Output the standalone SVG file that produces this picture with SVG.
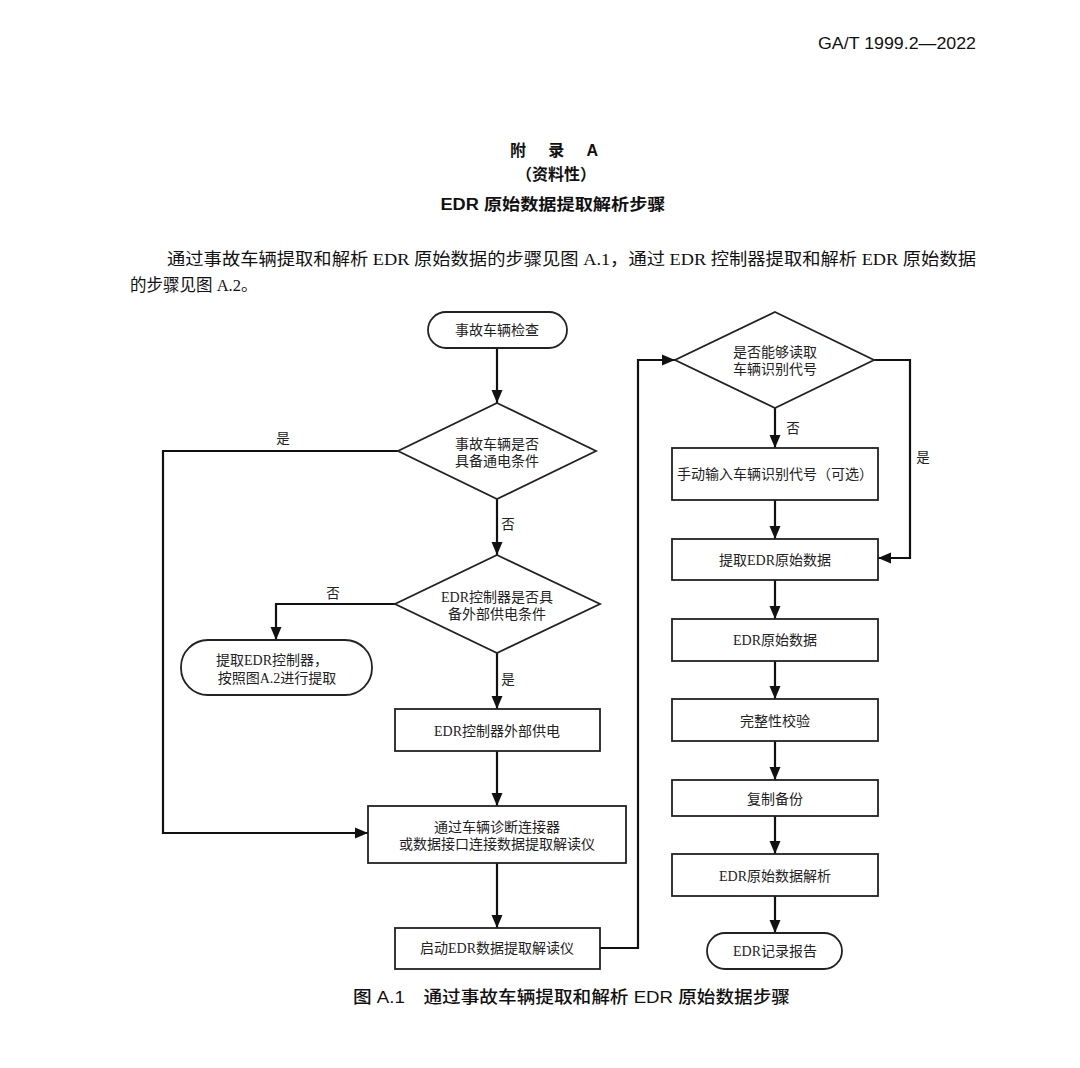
<svg xmlns="http://www.w3.org/2000/svg" width="1080" height="1068" viewBox="0 0 1080 1068">
<defs>
<marker id="ah" markerUnits="userSpaceOnUse" markerWidth="14" markerHeight="14" viewBox="0 0 14 14" refX="13" refY="7" orient="auto">
<path d="M0,1.5 L13,7 L0,12.5 Z" fill="#111"/>
</marker>
<style>
.pg{font-family:"Liberation Serif","Noto Sans CJK SC",serif;fill:#111;font-size:16.5px}
.hd{font-family:"Liberation Sans","Noto Sans CJK SC",sans-serif;fill:#111;font-weight:bold}
.hn{font-family:"Liberation Sans","Noto Sans CJK SC",sans-serif;fill:#111;font-weight:normal}
.nd{fill:#fff;stroke:#222;stroke-width:1.8}
.tx{font-family:"Liberation Serif","Noto Sans CJK SC",serif;font-size:14px;fill:#222;text-anchor:middle;dominant-baseline:central}
.lb{font-family:"Noto Sans CJK SC",sans-serif;font-size:13.5px;fill:#222;text-anchor:middle;dominant-baseline:central}
.cn{fill:none;stroke:#111;stroke-width:2.2}
</style>
</defs>
<rect width="1080" height="1068" fill="#fff"/>
<text class="hn" x="976" y="49" text-anchor="end" font-size="16" textLength="158" lengthAdjust="spacingAndGlyphs">GA/T 1999.2—2022</text>
<text class="hd" x="554" y="156" text-anchor="middle" font-size="16" textLength="88" lengthAdjust="spacing">附 录 A</text>
<text class="hd" x="556" y="180" text-anchor="middle" font-size="16">（资料性）</text>
<text class="hd" x="553" y="210" text-anchor="middle" font-size="16" textLength="225" lengthAdjust="spacingAndGlyphs">EDR 原始数据提取解析步骤</text>
<text class="pg" x="167" y="265" textLength="809" lengthAdjust="spacingAndGlyphs">通过事故车辆提取和解析 EDR 原始数据的步骤见图 A.1，通过 EDR 控制器提取和解析 EDR 原始数据</text>
<text class="pg" x="130" y="291">的步骤见图 A.2。</text>

<g id="connectors">
<path class="cn" d="M497,348 V403" marker-end="url(#ah)"/>
<path class="cn" d="M497,499 V555" marker-end="url(#ah)"/>
<path class="cn" d="M398,451 H163 V833 H368" marker-end="url(#ah)"/>
<path class="cn" d="M395,604 H276 V640" marker-end="url(#ah)"/>
<path class="cn" d="M497,653 V709" marker-end="url(#ah)"/>
<path class="cn" d="M497,751 V806" marker-end="url(#ah)"/>
<path class="cn" d="M497,863 V928" marker-end="url(#ah)"/>
<path class="cn" d="M600,948 H638 V360 H675" marker-end="url(#ah)"/>
<path class="cn" d="M775,408 V448" marker-end="url(#ah)"/>
<path class="cn" d="M874,360 H910 V558 H878" marker-end="url(#ah)"/>
<path class="cn" d="M775,500 V539" marker-end="url(#ah)"/>
<path class="cn" d="M775,580 V619" marker-end="url(#ah)"/>
<path class="cn" d="M775,661 V699" marker-end="url(#ah)"/>
<path class="cn" d="M775,741 V780" marker-end="url(#ah)"/>
<path class="cn" d="M775,816 V854" marker-end="url(#ah)"/>
<path class="cn" d="M775,896 V933" marker-end="url(#ah)"/>
<text class="lb" x="283" y="437">是</text>
<text class="lb" x="508" y="523">否</text>
<text class="lb" x="333" y="592">否</text>
<text class="lb" x="508" y="678">是</text>
<text class="lb" x="793" y="427">否</text>
<text class="lb" x="923" y="456">是</text>
</g>

<g id="n-start">
<rect class="nd" x="428" y="312" width="139" height="36" rx="18"/>
<text class="tx" x="497" y="330">事故车辆检查</text>
</g>
<g id="n-d1">
<polygon class="nd" points="497,403 596,451 497,499 398,451"/>
<text class="tx" x="497" y="444">事故车辆是否</text>
<text class="tx" x="497" y="461">具备通电条件</text>
</g>
<g id="n-d2">
<polygon class="nd" points="497,555 600,604 497,653 395,604"/>
<text class="tx" x="497" y="597">EDR控制器是否具</text>
<text class="tx" x="497" y="614">备外部供电条件</text>
</g>
<g id="n-extract-ctrl">
<rect class="nd" x="181" y="640" width="191" height="55" rx="27"/>
<text class="tx" x="272" y="660">提取EDR控制器，</text>
<text class="tx" x="277" y="678">按照图A.2进行提取</text>
</g>
<g id="n-power">
<rect class="nd" x="395" y="709" width="205" height="42"/>
<text class="tx" x="497" y="731">EDR控制器外部供电</text>
</g>
<g id="n-connect">
<rect class="nd" x="368" y="806" width="258" height="57"/>
<text class="tx" x="497" y="827">通过车辆诊断连接器</text>
<text class="tx" x="497" y="844">或数据接口连接数据提取解读仪</text>
</g>
<g id="n-launch">
<rect class="nd" x="395" y="928" width="205" height="41"/>
<text class="tx" x="497" y="948">启动EDR数据提取解读仪</text>
</g>
<g id="n-d3">
<polygon class="nd" points="775,312 874,360 775,408 675,360"/>
<text class="tx" x="775" y="352">是否能够读取</text>
<text class="tx" x="775" y="369">车辆识别代号</text>
</g>
<g id="n-manual">
<rect class="nd" x="672" y="448" width="206" height="52"/>
<text class="tx" x="775" y="474">手动输入车辆识别代号（可选）</text>
</g>
<g id="n-extract-raw">
<rect class="nd" x="672" y="539" width="206" height="41"/>
<text class="tx" x="775" y="560">提取EDR原始数据</text>
</g>
<g id="n-raw">
<rect class="nd" x="672" y="619" width="206" height="42"/>
<text class="tx" x="775" y="640">EDR原始数据</text>
</g>
<g id="n-check">
<rect class="nd" x="672" y="699" width="206" height="42"/>
<text class="tx" x="775" y="721">完整性校验</text>
</g>
<g id="n-backup">
<rect class="nd" x="672" y="780" width="206" height="36"/>
<text class="tx" x="775" y="799">复制备份</text>
</g>
<g id="n-parse">
<rect class="nd" x="672" y="854" width="206" height="42"/>
<text class="tx" x="775" y="876">EDR原始数据解析</text>
</g>
<g id="n-report">
<rect class="nd" x="707" y="933" width="135" height="36" rx="18"/>
<text class="tx" x="775" y="951">EDR记录报告</text>
</g>

<text class="hn" x="353" y="1003" font-size="17" style="font-weight:500" textLength="437" lengthAdjust="spacingAndGlyphs">图 A.1　通过事故车辆提取和解析 EDR 原始数据步骤</text>
</svg>
